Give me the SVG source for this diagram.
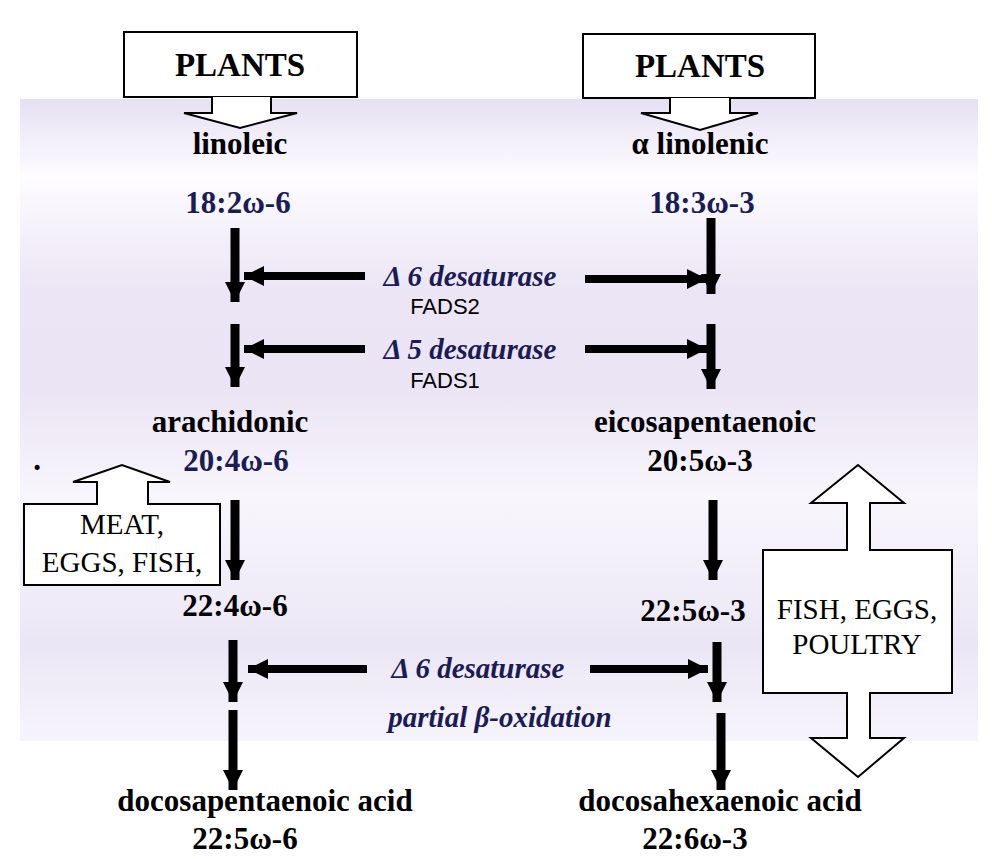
<svg xmlns="http://www.w3.org/2000/svg" width="992" height="859" viewBox="0 0 992 859">
<defs>
<linearGradient id="bg" x1="0" y1="0" x2="0" y2="1">
<stop offset="0" stop-color="#e6e0f3"/>
<stop offset="0.12" stop-color="#fdfcff"/>
<stop offset="0.3" stop-color="#ebe5f5"/>
<stop offset="0.45" stop-color="#eae4f4"/>
<stop offset="0.62" stop-color="#f8f6fc"/>
<stop offset="0.85" stop-color="#ebe6f5"/>
<stop offset="1" stop-color="#f6f4fb"/>
</linearGradient>
<marker id="ah" viewBox="0 0 10 10" refX="10" refY="5" markerWidth="20" markerHeight="26" markerUnits="userSpaceOnUse" orient="auto"><path d="M0,0 L10,5 L0,10 z" fill="#000"/></marker>
</defs>
<style>
.b{font-family:"Liberation Serif",serif;font-weight:bold;font-size:31px;text-anchor:middle;fill:#000}
.n{fill:#1c1c55}
.e{font-family:"Liberation Serif",serif;font-style:italic;font-weight:bold;font-size:29px;text-anchor:middle;fill:#1c1c55}
.f{font-family:"Liberation Sans",sans-serif;font-size:22px;text-anchor:middle;fill:#000}
.s{font-family:"Liberation Serif",serif;font-size:29px;text-anchor:middle;fill:#000}
.box{fill:#fff;stroke:#000;stroke-width:2}
.a{stroke:#000;stroke-width:9;fill:none;marker-end:url(#ah)}
.h{stroke:#000;stroke-width:8;fill:none;marker-end:url(#ah)}
</style>
<rect width="992" height="859" fill="#fff"/>
<rect x="20" y="99" width="958" height="642" fill="url(#bg)"/>
<g id="plants-left">
<rect class="box" x="124" y="32" width="233" height="65"/>
<path class="box" d="M212,97 L212,113 L184,113 L240,128 L297,113 L271,113 L271,97"/>
<text class="b" x="240" y="76" style="font-size:33px">PLANTS</text>
</g>
<g id="plants-right">
<rect class="box" x="583" y="34" width="232" height="64"/>
<path class="box" d="M670,98 L670,113 L641,113 L700,130 L758,113 L730,113 L730,98"/>
<text class="b" x="700" y="77" style="font-size:33px">PLANTS</text>
</g>
<g id="n6">
<text class="b" x="240" y="154">linoleic</text>
<text class="b n" x="238" y="213">18:2ω-6</text>
<text class="b" x="230" y="432">arachidonic</text>
<text class="b n" x="236" y="471">20:4ω-6</text>
<text class="b" x="235" y="616">22:4ω-6</text>
<text class="b" x="265" y="811">docosapentaenoic acid</text>
<text class="b" x="245" y="849">22:5ω-6</text>
</g>
<g id="n3">
<text class="b" x="700" y="154">α linolenic</text>
<text class="b n" x="702" y="213">18:3ω-3</text>
<text class="b" x="705" y="432">eicosapentaenoic</text>
<text class="b" x="700" y="471">20:5ω-3</text>
<text class="b" x="693" y="621">22:5ω-3</text>
<text class="b" x="720" y="811">docosahexaenoic acid</text>
<text class="b" x="695" y="849">22:6ω-3</text>
</g>
<g id="enzymes">
<text class="e" x="470" y="286">Δ 6 desaturase</text>
<text class="f" x="445" y="314">FADS2</text>
<text class="e" x="470" y="359">Δ  5 desaturase</text>
<text class="f" x="445" y="388">FADS1</text>
<text class="e" x="478" y="678">Δ 6 desaturase</text>
<text class="e" x="500" y="727">partial  β-oxidation</text>
</g>
<g id="meat">
<path class="box" d="M24,504 L97,504 L97,482 L73,482 L122,465 L170,482 L148,482 L148,504 L220,504 L220,585 L24,585 Z"/>
<text class="s" x="122" y="534">MEAT,</text>
<text class="s" x="122" y="572">EGGS, FISH,</text>
<text class="b" x="37" y="470">.</text>
</g>
<g id="fish">
<path class="box" d="M763,550 L847,550 L847,503 L811,503 L858,465 L904,503 L870,503 L870,550 L952,550 L952,693 L870,693 L870,738 L904,738 L858,777 L811,738 L847,738 L847,693 L763,693 Z"/>
<text class="s" x="857" y="619">FISH, EGGS,</text>
<text class="s" x="857" y="654">POULTRY</text>
</g>
<g id="connectors">
<line class="a" x1="235" y1="228" x2="235" y2="302"/>
<line class="a" x1="711" y1="218" x2="711" y2="294"/>
<line class="h" x1="365" y1="276" x2="244" y2="276"/>
<line class="h" x1="585" y1="279" x2="707" y2="279"/>
<line class="a" x1="235" y1="324" x2="235" y2="387"/>
<line class="a" x1="711" y1="324" x2="711" y2="389"/>
<line class="h" x1="365" y1="349" x2="244" y2="349"/>
<line class="h" x1="585" y1="349" x2="707" y2="349"/>
<line class="a" x1="235" y1="500" x2="235" y2="580"/>
<line class="a" x1="713" y1="500" x2="713" y2="580"/>
<line class="a" x1="233" y1="640" x2="233" y2="702"/>
<line class="a" x1="717" y1="642" x2="717" y2="702"/>
<line class="h" x1="367" y1="669" x2="248" y2="669"/>
<line class="h" x1="590" y1="669" x2="708" y2="669"/>
<line class="a" x1="233" y1="710" x2="233" y2="790"/>
<line class="a" x1="721" y1="713" x2="721" y2="790"/>
</g>
</svg>
